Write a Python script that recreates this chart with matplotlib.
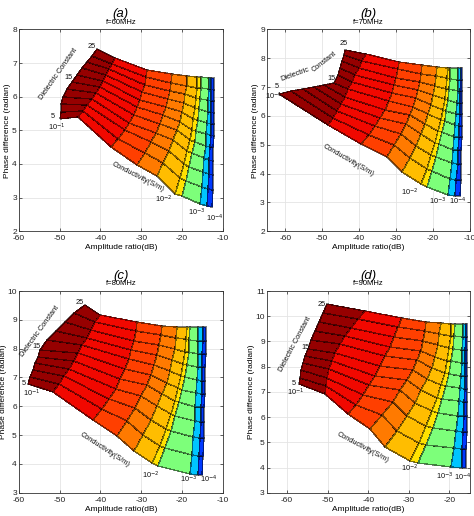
import numpy as np
import matplotlib.pyplot as plt

plt.rcParams['font.family'] = ['Liberation Sans', 'DejaVu Sans']
plt.rcParams['axes.unicode_minus'] = False

# rows of the mesh: dielectric constant 5..25, one column edge per conductivity band
eps_rows = [5, 7, 9, 11, 13, 15, 17, 19, 21, 23, 25]
# jet level of each conductivity band (0.1 S/m on the left ... 1e-4 S/m on the right)
band_level = [0.98, 0.90, 0.84, 0.78, 0.71, 0.67, 0.50, 0.32, 0.18]

# (a) f=60MHz : amplitude ratio (dB) per column edge, one value per eps row
a_x = [
    [-49.9, -49.8, -49.6, -49.2, -48.2, -47.0, -45.8, -44.6, -43.4, -42.1, -40.9],
    [-45.4, -44.2, -43.2, -42.1, -41.1, -40.2, -39.4, -38.6, -37.8, -37.1, -36.4],
    [-37.3, -35.6, -34.1, -32.9, -31.9, -31.0, -30.3, -29.7, -29.2, -28.9, -28.7],
    [-31.1, -29.2, -27.7, -26.5, -25.4, -24.6, -23.9, -23.4, -22.9, -22.7, -22.5],
    [-26.2, -24.6, -23.2, -22.2, -21.3, -20.6, -20.0, -19.5, -19.2, -18.9, -18.8],
    [-21.7, -20.5, -19.5, -18.8, -18.1, -17.6, -17.2, -16.8, -16.6, -16.4, -16.3],
    [-20.1, -19.0, -18.2, -17.5, -16.9, -16.5, -16.1, -15.8, -15.5, -15.4, -15.3],
    [-15.7, -15.2, -14.8, -14.5, -14.2, -14.0, -13.9, -13.7, -13.6, -13.5, -13.5],
    [-13.8, -13.6, -13.4, -13.3, -13.1, -13.0, -13.0, -12.9, -12.9, -12.8, -12.8],
    [-12.6, -12.5, -12.4, -12.3, -12.3, -12.2, -12.2, -12.1, -12.1, -12.1, -12.1],
]
# phase difference (radian)
a_y = [
    [5.33, 5.55, 5.78, 6.00, 6.22, 6.45, 6.65, 6.85, 7.03, 7.22, 7.41],
    [5.40, 5.58, 5.75, 5.93, 6.10, 6.28, 6.46, 6.63, 6.81, 6.98, 7.16],
    [4.50, 4.75, 5.00, 5.23, 5.46, 5.69, 5.91, 6.14, 6.35, 6.57, 6.78],
    [3.96, 4.31, 4.64, 4.93, 5.20, 5.45, 5.69, 5.93, 6.17, 6.42, 6.66],
    [3.63, 4.02, 4.37, 4.70, 5.00, 5.26, 5.53, 5.80, 6.07, 6.33, 6.60],
    [3.12, 3.57, 3.99, 4.37, 4.71, 5.02, 5.33, 5.65, 5.96, 6.27, 6.58],
    [3.04, 3.50, 3.92, 4.31, 4.66, 4.98, 5.30, 5.62, 5.93, 6.25, 6.57],
    [2.82, 3.31, 3.76, 4.17, 4.54, 4.88, 5.21, 5.55, 5.89, 6.22, 6.56],
    [2.75, 3.25, 3.70, 4.12, 4.50, 4.85, 5.19, 5.53, 5.87, 6.22, 6.56],
    [2.72, 3.22, 3.68, 4.10, 4.49, 4.83, 5.18, 5.52, 5.87, 6.21, 6.56],
]

# (b) f=70MHz
b_x = [
    [-61.8, -58.5, -55.3, -52.3, -49.4, -46.8, -45.8, -45.1, -44.5, -44.1, -43.8],
    [-48.5, -47.2, -46.1, -44.9, -43.9, -42.9, -42.0, -41.0, -40.1, -39.1, -38.0],
    [-39.4, -37.4, -35.7, -34.2, -33.0, -32.0, -31.2, -30.5, -29.9, -29.5, -29.3],
    [-32.5, -30.4, -28.7, -27.4, -26.2, -25.3, -24.5, -23.9, -23.5, -23.2, -23.0],
    [-28.3, -26.3, -24.6, -23.3, -22.2, -21.2, -20.5, -19.9, -19.5, -19.2, -19.0],
    [-23.3, -21.7, -20.4, -19.4, -18.5, -17.8, -17.2, -16.7, -16.4, -16.2, -16.0],
    [-21.7, -20.3, -19.1, -18.2, -17.5, -16.8, -16.3, -15.9, -15.6, -15.4, -15.3],
    [-16.0, -15.4, -14.9, -14.5, -14.2, -13.9, -13.6, -13.5, -13.3, -13.3, -13.2],
    [-13.9, -13.6, -13.3, -13.1, -13.0, -12.8, -12.7, -12.6, -12.6, -12.5, -12.5],
    [-12.6, -12.5, -12.4, -12.3, -12.2, -12.1, -12.1, -12.1, -12.0, -12.0, -12.0],
]
b_y = [
    [6.75, 6.85, 6.93, 7.00, 7.07, 7.15, 7.42, 7.67, 7.90, 8.11, 8.30],
    [5.67, 5.92, 6.17, 6.42, 6.67, 6.92, 7.16, 7.41, 7.66, 7.91, 8.16],
    [5.02, 5.33, 5.65, 5.93, 6.22, 6.50, 6.79, 7.07, 7.33, 7.61, 7.87],
    [4.58, 4.99, 5.37, 5.72, 6.04, 6.32, 6.61, 6.89, 7.18, 7.46, 7.75],
    [4.06, 4.53, 4.97, 5.37, 5.73, 6.06, 6.39, 6.72, 7.04, 7.37, 7.70],
    [3.62, 4.15, 4.63, 5.07, 5.48, 5.84, 6.21, 6.57, 6.93, 7.30, 7.66],
    [3.54, 4.08, 4.57, 5.02, 5.44, 5.81, 6.18, 6.55, 6.92, 7.29, 7.66],
    [3.25, 3.82, 4.35, 4.83, 5.27, 5.67, 6.07, 6.46, 6.86, 7.25, 7.65],
    [3.21, 3.79, 4.32, 4.81, 5.25, 5.65, 6.05, 6.45, 6.85, 7.25, 7.65],
    [3.21, 3.79, 4.32, 4.81, 5.25, 5.65, 6.05, 6.45, 6.85, 7.25, 7.65],
]

# (c) f=80MHz
c_x = [
    [-57.7, -57.2, -56.6, -56.0, -55.4, -54.8, -53.0, -51.0, -48.8, -46.4, -43.8],
    [-51.6, -50.2, -49.0, -47.7, -46.5, -45.5, -44.5, -43.4, -42.4, -41.3, -40.1],
    [-41.8, -39.7, -37.8, -36.3, -35.1, -34.0, -33.1, -32.4, -31.7, -31.3, -31.1],
    [-36.0, -33.6, -31.6, -30.1, -28.7, -27.6, -26.8, -26.1, -25.6, -25.2, -25.0],
    [-31.9, -29.6, -27.7, -26.2, -24.9, -23.8, -23.0, -22.4, -21.8, -21.5, -21.3],
    [-27.4, -25.5, -24.0, -22.8, -21.7, -20.9, -20.2, -19.7, -19.2, -19.0, -18.8],
    [-25.8, -24.1, -22.7, -21.6, -20.7, -19.9, -19.2, -18.8, -18.4, -18.2, -18.0],
    [-18.0, -17.6, -17.2, -16.9, -16.7, -16.5, -16.3, -16.2, -16.1, -16.0, -16.0],
    [-16.0, -15.8, -15.6, -15.4, -15.3, -15.2, -15.1, -15.0, -15.0, -14.9, -14.9],
    [-15.0, -14.8, -14.7, -14.6, -14.5, -14.4, -14.3, -14.3, -14.2, -14.2, -14.2],
]
c_y = [
    [6.76, 7.00, 7.25, 7.49, 7.72, 7.96, 8.30, 8.62, 8.93, 9.23, 9.53],
    [6.50, 6.77, 7.04, 7.30, 7.57, 7.84, 8.11, 8.38, 8.64, 8.91, 9.18],
    [5.51, 5.89, 6.26, 6.60, 6.95, 7.29, 7.63, 7.97, 8.28, 8.62, 8.93],
    [4.98, 5.48, 5.94, 6.36, 6.74, 7.08, 7.42, 7.77, 8.11, 8.46, 8.80],
    [4.46, 5.02, 5.53, 6.00, 6.43, 6.82, 7.21, 7.59, 7.98, 8.36, 8.75],
    [4.03, 4.64, 5.21, 5.73, 6.20, 6.62, 7.04, 7.47, 7.89, 8.32, 8.74],
    [3.93, 4.56, 5.13, 5.66, 6.14, 6.58, 7.01, 7.44, 7.87, 8.31, 8.74],
    [3.64, 4.30, 4.92, 5.48, 5.99, 6.45, 6.90, 7.36, 7.82, 8.28, 8.74],
    [3.61, 4.28, 4.89, 5.46, 5.97, 6.43, 6.89, 7.35, 7.82, 8.28, 8.74],
    [3.61, 4.28, 4.89, 5.46, 5.97, 6.43, 6.89, 7.35, 7.82, 8.28, 8.74],
]

# (d) f=90MHz
d_x = [
    [-57.2, -56.9, -56.5, -56.1, -55.5, -54.8, -54.0, -53.1, -52.2, -51.2, -50.2],
    [-50.7, -50.5, -50.2, -49.7, -49.0, -48.1, -47.0, -45.8, -44.3, -42.6, -40.8],
    [-44.9, -43.1, -41.4, -39.8, -38.4, -37.0, -35.9, -34.7, -33.6, -32.7, -31.8],
    [-39.6, -36.5, -34.0, -32.1, -30.4, -29.0, -27.9, -27.1, -26.4, -26.0, -25.7],
    [-35.9, -32.9, -30.4, -28.5, -26.9, -25.5, -24.4, -23.6, -22.9, -22.5, -22.2],
    [-29.8, -27.5, -25.7, -24.2, -23.0, -22.0, -21.1, -20.5, -20.0, -19.7, -19.5],
    [-27.7, -25.7, -24.1, -22.8, -21.8, -20.9, -20.1, -19.6, -19.2, -18.9, -18.7],
    [-19.5, -18.9, -18.3, -17.9, -17.6, -17.3, -17.1, -16.9, -16.8, -16.7, -16.6],
    [-17.0, -16.8, -16.6, -16.5, -16.3, -16.2, -16.2, -16.1, -16.1, -16.0, -16.0],
    [-15.8, -15.8, -15.7, -15.7, -15.7, -15.7, -15.6, -15.6, -15.6, -15.6, -15.6],
]
d_y = [
    [7.30, 7.57, 7.85, 8.13, 8.42, 8.70, 9.05, 9.40, 9.76, 10.12, 10.47],
    [6.91, 7.24, 7.57, 7.90, 8.23, 8.56, 8.89, 9.22, 9.55, 9.88, 10.21],
    [6.12, 6.50, 6.88, 7.27, 7.65, 8.03, 8.41, 8.79, 9.18, 9.56, 9.94],
    [5.52, 6.08, 6.59, 7.06, 7.48, 7.87, 8.25, 8.64, 9.02, 9.41, 9.79],
    [4.80, 5.44, 6.03, 6.57, 7.07, 7.51, 7.96, 8.40, 8.84, 9.29, 9.73],
    [4.27, 4.98, 5.63, 6.23, 6.77, 7.26, 7.75, 8.24, 8.73, 9.22, 9.71],
    [4.20, 4.91, 5.57, 6.18, 6.73, 7.22, 7.71, 8.21, 8.70, 9.20, 9.69],
    [4.03, 4.76, 5.44, 6.06, 6.63, 7.14, 7.65, 8.15, 8.66, 9.17, 9.68],
    [4.00, 4.74, 5.42, 6.04, 6.61, 7.12, 7.64, 8.15, 8.66, 9.17, 9.68],
    [3.98, 4.72, 5.40, 6.03, 6.60, 7.11, 7.63, 8.14, 8.65, 9.17, 9.68],
]

panel_tags = ['(a)', '(b)', '(c)', '(d)']
panel_titles = ['f=60MHz', 'f=70MHz', 'f=80MHz', 'f=90MHz']
panel_xlim = [(-60, -10), (-65, -10), (-60, -10), (-65, -15)]
panel_ylim = [(2, 8), (2, 9), (3, 10), (3, 11)]

# annotation texts: (text, x, y, rotation)
labels_a = [('Dielectric Constant', -50.3, 6.68, 55), ('25', -42.2, 7.50, 0),
            ('15', -47.8, 6.58, 0), ('5', -51.6, 5.40, 0), ('10$^{-1}$', -50.8, 5.08, 0),
            ('Conductivity(S/m)', -30.8, 3.62, -27), ('10$^{-2}$', -24.4, 2.95, 0),
            ('10$^{-3}$', -16.4, 2.55, 0), ('10$^{-4}$', -12.0, 2.38, 0)]
labels_b = [('Dielectric', -57.3, 7.45, 20), ('Constant', -49.5, 7.87, 38),
            ('25', -44.1, 8.50, 0), ('15', -47.4, 7.30, 0), ('5', -62.2, 7.02, 0),
            ('10$^{-1}$', -63.2, 6.68, 0), ('Conductivity(S/m)', -42.8, 4.45, -30),
            ('10$^{-2}$', -26.2, 3.36, 0), ('10$^{-3}$', -18.6, 3.02, 0),
            ('10$^{-4}$', -13.3, 3.02, 0)]
labels_c = [('Dielectric Constant', -54.8, 8.60, 54), ('25', -45.2, 9.60, 0),
            ('15', -55.7, 8.07, 0), ('5', -58.9, 6.78, 0), ('10$^{-1}$', -56.8, 6.46, 0),
            ('Conductivity(S/m)', -39.0, 4.50, -33), ('10$^{-2}$', -27.8, 3.62, 0),
            ('10$^{-3}$', -18.4, 3.45, 0), ('10$^{-4}$', -13.4, 3.45, 0)]
labels_d = [('Dielectric Constant', -58.0, 8.89, 62), ('25', -51.5, 10.48, 0),
            ('15', -55.6, 8.78, 0), ('5', -58.4, 7.35, 0), ('10$^{-1}$', -57.8, 7.00, 0),
            ('Conductivity(S/m)', -41.4, 4.80, -28), ('10$^{-2}$', -29.8, 3.96, 0),
            ('10$^{-3}$', -21.2, 3.65, 0), ('10$^{-4}$', -16.8, 3.62, 0)]

panels = [
    (a_x, a_y, labels_a, [0.040, 0.552, 0.430, 0.391]),
    (b_x, b_y, labels_b, [0.563, 0.552, 0.428, 0.391]),
    (c_x, c_y, labels_c, [0.040, 0.045, 0.430, 0.391]),
    (d_x, d_y, labels_d, [0.563, 0.045, 0.428, 0.391]),
]

fig = plt.figure(figsize=(4.74, 5.16), dpi=100)

for i, (xs, ys, labels, pos) in enumerate(panels):
    ax = fig.add_axes(pos)
    X = np.array(xs).T
    Y = np.array(ys).T
    C = np.tile(band_level, (len(eps_rows) - 1, 1))
    ax.pcolormesh(X, Y, C, cmap='jet', vmin=0, vmax=1, shading='flat',
                  edgecolors=(0, 0, 0, 0.5), linewidth=0.3, zorder=2)

    for txt, tx, ty, rot in labels:
        ax.text(tx, ty, txt, fontsize=5.3, rotation=rot, color='#111111',
                ha='center', va='center', rotation_mode='anchor', zorder=3)

    x0, x1 = panel_xlim[i]
    y0, y1 = panel_ylim[i]
    ax.set_xlim(x0, x1)
    ax.set_ylim(y0, y1)
    ax.set_xticks(range(x0 + 5 if x0 % 10 else x0, x1 + 1, 10))
    ax.set_yticks(range(y0, y1 + 1))
    ax.grid(True, color='#e4e4e4', linewidth=0.6)
    ax.set_axisbelow(True)
    for s in ax.spines.values():
        s.set_linewidth(0.6)
        s.set_color('#333333')
    ax.tick_params(direction='in', length=2.5, width=0.5, labelsize=6, pad=1.5,
                   top=True, right=True, colors='#222222')
    ax.tick_params(axis='x', pad=3)
    ax.set_xlabel('Amplitude ratio(dB)', fontsize=6, labelpad=1.5)
    ax.set_ylabel('Phase difference (radian)', fontsize=6, labelpad=0.5)
    ax.set_title(panel_titles[i], fontsize=5.5, pad=4)
    ax.text(0.5, 1.075, panel_tags[i], transform=ax.transAxes, fontsize=9.5,
            style='italic', ha='center', va='center')

fig.savefig('out.png', dpi=100)
